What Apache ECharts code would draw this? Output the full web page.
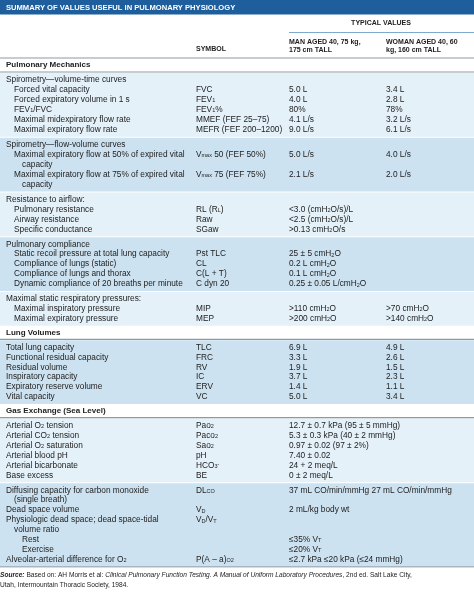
<!DOCTYPE html>
<html><head><meta charset="utf-8">
<script src="https://cdn.jsdelivr.net/npm/echarts@6/dist/echarts.min.js"></script>
<style>html,body{margin:0;padding:0;background:#fff}#c{width:474px;height:599px}</style>
</head><body><div id="c"></div>
<script>
// Row data (block: "S" = section header, otherwise group id)
const rowBlock = [
 "S","g1","g1","g1","g1","g1","g1","g2","g2","g2","g2","g2","g3","g3","g3","g3","g4","g4","g4","g4","g4","g5","g5","g5",
 "S","g6","g6","g6","g6","g6","g6",
 "S","g7","g7","g7","g7","g7","g7","g8","g8","g8","g8","g8","g8","g8","g8"];
const rowLabel = [
 "Pulmonary Mechanics",
 "Spirometry—volume-time curves","Forced vital capacity","Forced expiratory volume in 1 s","FEV{s|1}/FVC","Maximal midexpiratory flow rate","Maximal expiratory flow rate",
 "Spirometry—flow-volume curves","Maximal expiratory flow at 50% of expired vital","capacity","Maximal expiratory flow at 75% of expired vital","capacity",
 "Resistance to airflow:","Pulmonary resistance","Airway resistance","Specific conductance",
 "Pulmonary compliance","Static recoil pressure at total lung capacity","Compliance of lungs (static)","Compliance of lungs and thorax","Dynamic compliance of 20 breaths per minute",
 "Maximal static respiratory pressures:","Maximal inspiratory pressure","Maximal expiratory pressure",
 "Lung Volumes",
 "Total lung capacity","Functional residual capacity","Residual volume","Inspiratory capacity","Expiratory reserve volume","Vital capacity",
 "Gas Exchange (Sea Level)",
 "Arterial O{s|2} tension","Arterial CO{s|2} tension","Arterial O{s|2} saturation","Arterial blood pH","Arterial bicarbonate","Base excess",
 "Diffusing capacity for carbon monoxide","(single breath)","Dead space volume","Physiologic dead space; dead space-tidal","volume ratio","Rest","Exercise","Alveolar-arterial difference for O{s|2}"];
const rowIndent = [0,0,1,1,1,1,1,0,1,2,1,2,0,1,1,1,0,1,1,1,1,0,1,1,0,0,0,0,0,0,0,0,0,0,0,0,0,0,0,1,0,0,1,2,2,0];
const rowSymbol = [
 "","","FVC","FEV{s|1}","FEV{s|1}%","MMEF (FEF 25–75)","MEFR (FEF 200–1200)",
 "","V{s|max} 50 (FEF 50%)","","V{s|max} 75 (FEF 75%)","",
 "","RL (R{s|L})","Raw","SGaw",
 "","Pst TLC","CL","C(L + T)","C dyn 20",
 "","MIP","MEP",
 "","TLC","FRC","RV","IC","ERV","VC",
 "","Pao{s|2}","Paco{s|2}","Sao{s|2}","pH","HCO{s|3}{u|-}","BE",
 "DL{s|CO}","","V{s|D}","V{s|D}/V{s|T}","","","","P(A – a){s|O2}"];
const rowMan = [
 "","","5.0 L","4.0 L","80%","4.1 L/s","9.0 L/s",
 "","5.0 L/s","","2.1 L/s","",
 "","<3.0 (cmH{s|2}O/s)/L","<2.5 (cmH{s|2}O/s)/L",">0.13 cmH{s|2}O/s",
 "","25 ± 5 cmH{s|2}O","0.2 L cmH{s|2}O","0.1 L cmH{s|2}O","0.25 ± 0.05 L/cmH{s|2}O",
 "",">110 cmH{s|2}O",">200 cmH{s|2}O",
 "","6.9 L","3.3 L","1.9 L","3.7 L","1.4 L","5.0 L",
 "","12.7 ± 0.7 kPa (95 ± 5 mmHg)","5.3 ± 0.3 kPa (40 ± 2 mmHg)","0.97 ± 0.02 (97 ± 2%)","7.40 ± 0.02","24 + 2 meq/L","0 ± 2 meq/L",
 "37 mL CO/min/mmHg 27 mL CO/min/mmHg","","2 mL/kg body wt","","","≤35% V{s|T}","≤20% V{s|T}","≤2.7 kPa ≤20 kPa (≤24 mmHg)"];
const rowWoman = [
 "","","3.4 L","2.8 L","78%","3.2 L/s","6.1 L/s",
 "","4.0 L/s","","2.0 L/s","",
 "","","","",
 "","","","","",
 "",">70 cmH{s|2}O",">140 cmH{s|2}O",
 "","4.9 L","2.6 L","1.5 L","2.3 L","1.1 L","3.4 L",
 "","","","","","","",
 "","","","","","","",""];
const blockColor = {g1:"#e4f1f9",g2:"#cde2f0",g3:"#e4f1f9",g4:"#cde2f0",g5:"#e4f1f9",g6:"#cde2f0",g7:"#e4f1f9",g8:"#cde2f0"};
const headerTitle = "SUMMARY OF VALUES USEFUL IN PULMONARY PHYSIOLOGY";

const chart = echarts.init(document.getElementById('c'));
const F = "Liberation Sans, Arial, sans-serif";
const rich = {
  s:{fontSize:5.5,fontFamily:F,fill:"#222",verticalAlign:'bottom',lineHeight:7,padding:[3,0,0,0]},
  u:{fontSize:5.5,fontFamily:F,fill:"#222",verticalAlign:'top',lineHeight:7}
};
const els = [];
function txt(x,y,t,opt){
  opt=opt||{};
  els.push({type:'text',x:x,y:y,z:10,style:Object.assign({text:t,fontSize:8.3,fontFamily:F,fill:'#222',verticalAlign:'middle',rich:rich},opt)});
}
function rect(x,y,w,h,c,z){els.push({type:'rect',shape:{x:x,y:y,width:w,height:h},style:{fill:c},z:z||1});}
function line(x1,y,x2,c,w){els.push({type:'line',shape:{x1:x1,y1:y,x2:x2,y2:y},style:{stroke:c,lineWidth:w||1},z:5});}

rect(0,0,474,14.5,"#1f5e9c");
txt(6,7.5,headerTitle,{fill:'#fff',fontWeight:'bold',fontSize:7.6});
txt(381,23,"TYPICAL VALUES",{fontWeight:'bold',fontSize:7,textAlign:'center'});
line(289,32.5,474,"#7eaad0",1);
txt(196,49.5,"SYMBOL",{fontWeight:'bold',fontSize:7});
txt(289,42.5,"MAN AGED 40, 75 kg,",{fontWeight:'bold',fontSize:7});
txt(289,50.5,"175 cm TALL",{fontWeight:'bold',fontSize:7});
txt(386,42.5,"WOMAN AGED 40, 60",{fontWeight:'bold',fontSize:7});
txt(386,50.5,"kg, 160 cm TALL",{fontWeight:'bold',fontSize:7});
line(0,58,474,"#8c9aa5",1);

const LH = 9.95;
let y = 58.5, i = 0;
while (i < rowBlock.length) {
  const b = rowBlock[i];
  if (b === "S") {
    const h = 13.5;
    txt(6, y+h/2, rowLabel[i], {fontWeight:'bold',fontSize:8});
    y += h; line(0,y,474,"#8c9aa5",1.2); y += 1;
    i++; continue;
  }
  let j = i; while (j < rowBlock.length && rowBlock[j] === b) j++;
  const h = 4 + (j-i)*LH;
  rect(0,y,474,h,blockColor[b]);
  let ry = y + 2 + LH/2;
  for (let k=i;k<j;k++){
    const ind = [6,14,22,16][rowIndent[k]];
    txt(ind, ry, rowLabel[k]);
    if (rowSymbol[k]) txt(196, ry, rowSymbol[k]);
    if (rowMan[k]) txt(289, ry, rowMan[k]);
    if (rowWoman[k]) txt(386, ry, rowWoman[k]);
    ry += LH;
  }
  y += h;
  if (j < rowBlock.length && rowBlock[j] !== "S") y += 1;
  i = j;
}
line(0,y,474,"#8c9aa5",1);
txt(0, y+8, "{b|Source:} Based on: AH Morris et al: {i|Clinical Pulmonary Function Testing. A Manual of Uniform Laboratory Procedures}, 2nd ed. Salt Lake City,",
  {fontSize:6.6,rich:{b:{fontWeight:'bold',fontStyle:'italic',fontSize:6.6,fontFamily:F,fill:'#222'},i:{fontStyle:'italic',fontSize:6.6,fontFamily:F,fill:'#222'}}});
txt(0, y+18, "Utah, Intermountain Thoracic Society, 1984.",{fontSize:6.6});

chart.setOption({animation:false,graphic:{elements:els}});
</script></body></html>
